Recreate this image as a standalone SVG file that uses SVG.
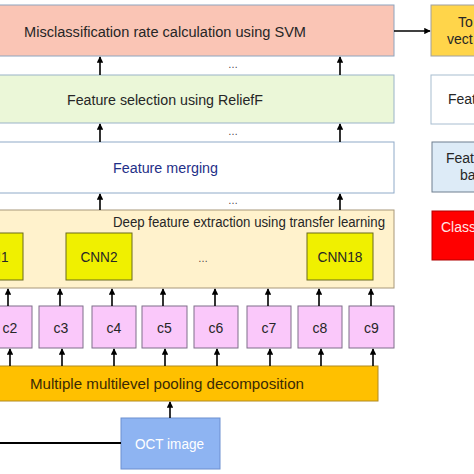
<svg xmlns="http://www.w3.org/2000/svg" width="474" height="474" viewBox="0 0 474 474">
<defs>
<marker id="ah" viewBox="0 0 10 10" refX="9" refY="5" markerWidth="4" markerHeight="4" orient="auto" markerUnits="strokeWidth">
<path d="M0,0 L10,5 L0,10 z" fill="#000"/>
</marker>
<style>
text{font-family:"Liberation Sans","Open Sans",Arial,sans-serif;font-size:14px;fill:#262626}
.ar{stroke:#000;stroke-width:1.6;fill:none;marker-end:url(#ah)}
.dots{font-size:10px;fill:#404040;text-anchor:middle}
.mid{text-anchor:middle}
.cbox{fill:#FAC8FA;stroke:#7F6F8A;stroke-width:1}
.cnn{fill:#F0F000;stroke:#6B6B1E;stroke-width:1}
</style>
</defs>
<rect width="474" height="474" fill="#fff"/>

<g id="svm">
<rect x="-2" y="5" width="396" height="51" fill="#FAC5B5" stroke="#8EA4BE" stroke-width="1"/>
<text x="24" y="37" textLength="282" lengthAdjust="spacingAndGlyphs">Misclassification rate calculation using SVM</text>
</g>
<g id="relieff">
<rect x="-2" y="75" width="396" height="48" fill="#EBF7D8" stroke="#9AB3C8" stroke-width="1"/>
<text x="67" y="105" textLength="196" lengthAdjust="spacingAndGlyphs">Feature selection using ReliefF</text>
</g>
<g id="merging">
<rect x="-2" y="142" width="396" height="51" fill="#FFFFFF" stroke="#8FAAC8" stroke-width="1"/>
<text x="113" y="173" textLength="105" lengthAdjust="spacingAndGlyphs" style="fill:#1F3088">Feature merging</text>
</g>
<g id="deep">
<rect x="-2" y="210" width="396" height="78" fill="#FFF2CC" stroke="#A8987A" stroke-width="1"/>
<text x="113" y="227" textLength="272" lengthAdjust="spacingAndGlyphs">Deep feature extraction using transfer learning</text>
</g>
<g id="cnn1">
<rect x="-43" y="233" width="66" height="47" class="cnn"/>
<text x="-10" y="262" class="mid" textLength="37" lengthAdjust="spacingAndGlyphs">CNN1</text>
</g>
<g id="cnn2">
<rect x="66" y="233" width="66" height="47" class="cnn"/>
<text x="99" y="262" class="mid" textLength="37" lengthAdjust="spacingAndGlyphs">CNN2</text>
</g>
<text x="203" y="262" class="dots">…</text>
<g id="cnn18">
<rect x="307" y="233" width="66" height="47" class="cnn"/>
<text x="340" y="262" class="mid" textLength="45" lengthAdjust="spacingAndGlyphs">CNN18</text>
</g>

<g id="c2"><rect x="-12" y="306" width="44" height="42" class="cbox"/><text x="10" y="333" class="mid">c2</text></g>
<g id="c3"><rect x="39" y="306" width="44" height="42" class="cbox"/><text x="61" y="333" class="mid">c3</text></g>
<g id="c4"><rect x="92" y="306" width="44" height="42" class="cbox"/><text x="114" y="333" class="mid">c4</text></g>
<g id="c5"><rect x="142" y="306" width="45" height="42" class="cbox"/><text x="164.5" y="333" class="mid">c5</text></g>
<g id="c6"><rect x="194" y="306" width="44" height="42" class="cbox"/><text x="216" y="333" class="mid">c6</text></g>
<g id="c7"><rect x="247" y="306" width="44" height="42" class="cbox"/><text x="269" y="333" class="mid">c7</text></g>
<g id="c8"><rect x="298" y="306" width="44" height="42" class="cbox"/><text x="320" y="333" class="mid">c8</text></g>
<g id="c9"><rect x="349" y="306" width="45" height="42" class="cbox"/><text x="371.5" y="333" class="mid">c9</text></g>

<g id="pooling">
<rect x="-2" y="366" width="380" height="35" fill="#FFC000" stroke="#B08A20" stroke-width="1"/>
<text x="30" y="389" textLength="274" lengthAdjust="spacingAndGlyphs" style="fill:#3A2A05">Multiple multilevel pooling decomposition</text>
</g>
<g id="oct">
<rect x="121" y="418" width="99" height="51" fill="#8EB4F2" stroke="#6C8FD0" stroke-width="1"/>
<text x="135" y="449" textLength="69" lengthAdjust="spacingAndGlyphs" style="fill:#FFFFFF">OCT image</text>
</g>

<g id="legend-total">
<rect x="431" y="5" width="50" height="51" fill="#FFD54A" stroke="#A0A0A0" stroke-width="1"/>
<text x="458" y="27">To</text>
<text x="447" y="44">vect</text>
</g>
<g id="legend-feat1">
<rect x="431" y="75" width="50" height="49" fill="#FFFFFF" stroke="#A8BDD0" stroke-width="1"/>
<text x="448" y="104">Feat</text>
</g>
<g id="legend-feat2">
<rect x="432" y="142" width="50" height="50" fill="#DDEBF7" stroke="#6F7F8F" stroke-width="1"/>
<text x="446" y="163">Feat</text>
<text x="460" y="180">ba</text>
</g>
<g id="legend-class">
<rect x="432" y="211" width="50" height="49" fill="#FF0000" stroke="#B00000" stroke-width="1"/>
<text x="441" y="232" style="fill:#FFE6E6">Class</text>
</g>

<g id="connectors">
<line x1="394" y1="31" x2="430" y2="31" class="ar"/>
<line x1="100" y1="75" x2="100" y2="57" class="ar"/>
<line x1="340" y1="75" x2="340" y2="57" class="ar"/>
<line x1="100" y1="142" x2="100" y2="124" class="ar"/>
<line x1="340" y1="142" x2="340" y2="124" class="ar"/>
<line x1="100" y1="210" x2="100" y2="194" class="ar"/>
<line x1="340" y1="210" x2="340" y2="194" class="ar"/>
<line x1="8" y1="306" x2="8" y2="289" class="ar"/>
<line x1="60" y1="306" x2="60" y2="289" class="ar"/>
<line x1="112" y1="306" x2="112" y2="289" class="ar"/>
<line x1="163" y1="306" x2="163" y2="289" class="ar"/>
<line x1="215" y1="306" x2="215" y2="289" class="ar"/>
<line x1="268" y1="306" x2="268" y2="289" class="ar"/>
<line x1="319" y1="306" x2="319" y2="289" class="ar"/>
<line x1="371" y1="306" x2="371" y2="289" class="ar"/>
<line x1="10" y1="366" x2="10" y2="349" class="ar"/>
<line x1="62" y1="366" x2="62" y2="349" class="ar"/>
<line x1="114" y1="366" x2="114" y2="349" class="ar"/>
<line x1="165" y1="366" x2="165" y2="349" class="ar"/>
<line x1="217" y1="366" x2="217" y2="349" class="ar"/>
<line x1="270" y1="366" x2="270" y2="349" class="ar"/>
<line x1="321" y1="366" x2="321" y2="349" class="ar"/>
<line x1="373" y1="366" x2="373" y2="349" class="ar"/>
<line x1="170" y1="418" x2="170" y2="402" class="ar"/>
<line x1="121" y1="443" x2="0" y2="443" stroke="#000" stroke-width="2"/>
<text x="233" y="68" class="dots">…</text>
<text x="233" y="135" class="dots">…</text>
<text x="233" y="204" class="dots">…</text>
</g>
</svg>
